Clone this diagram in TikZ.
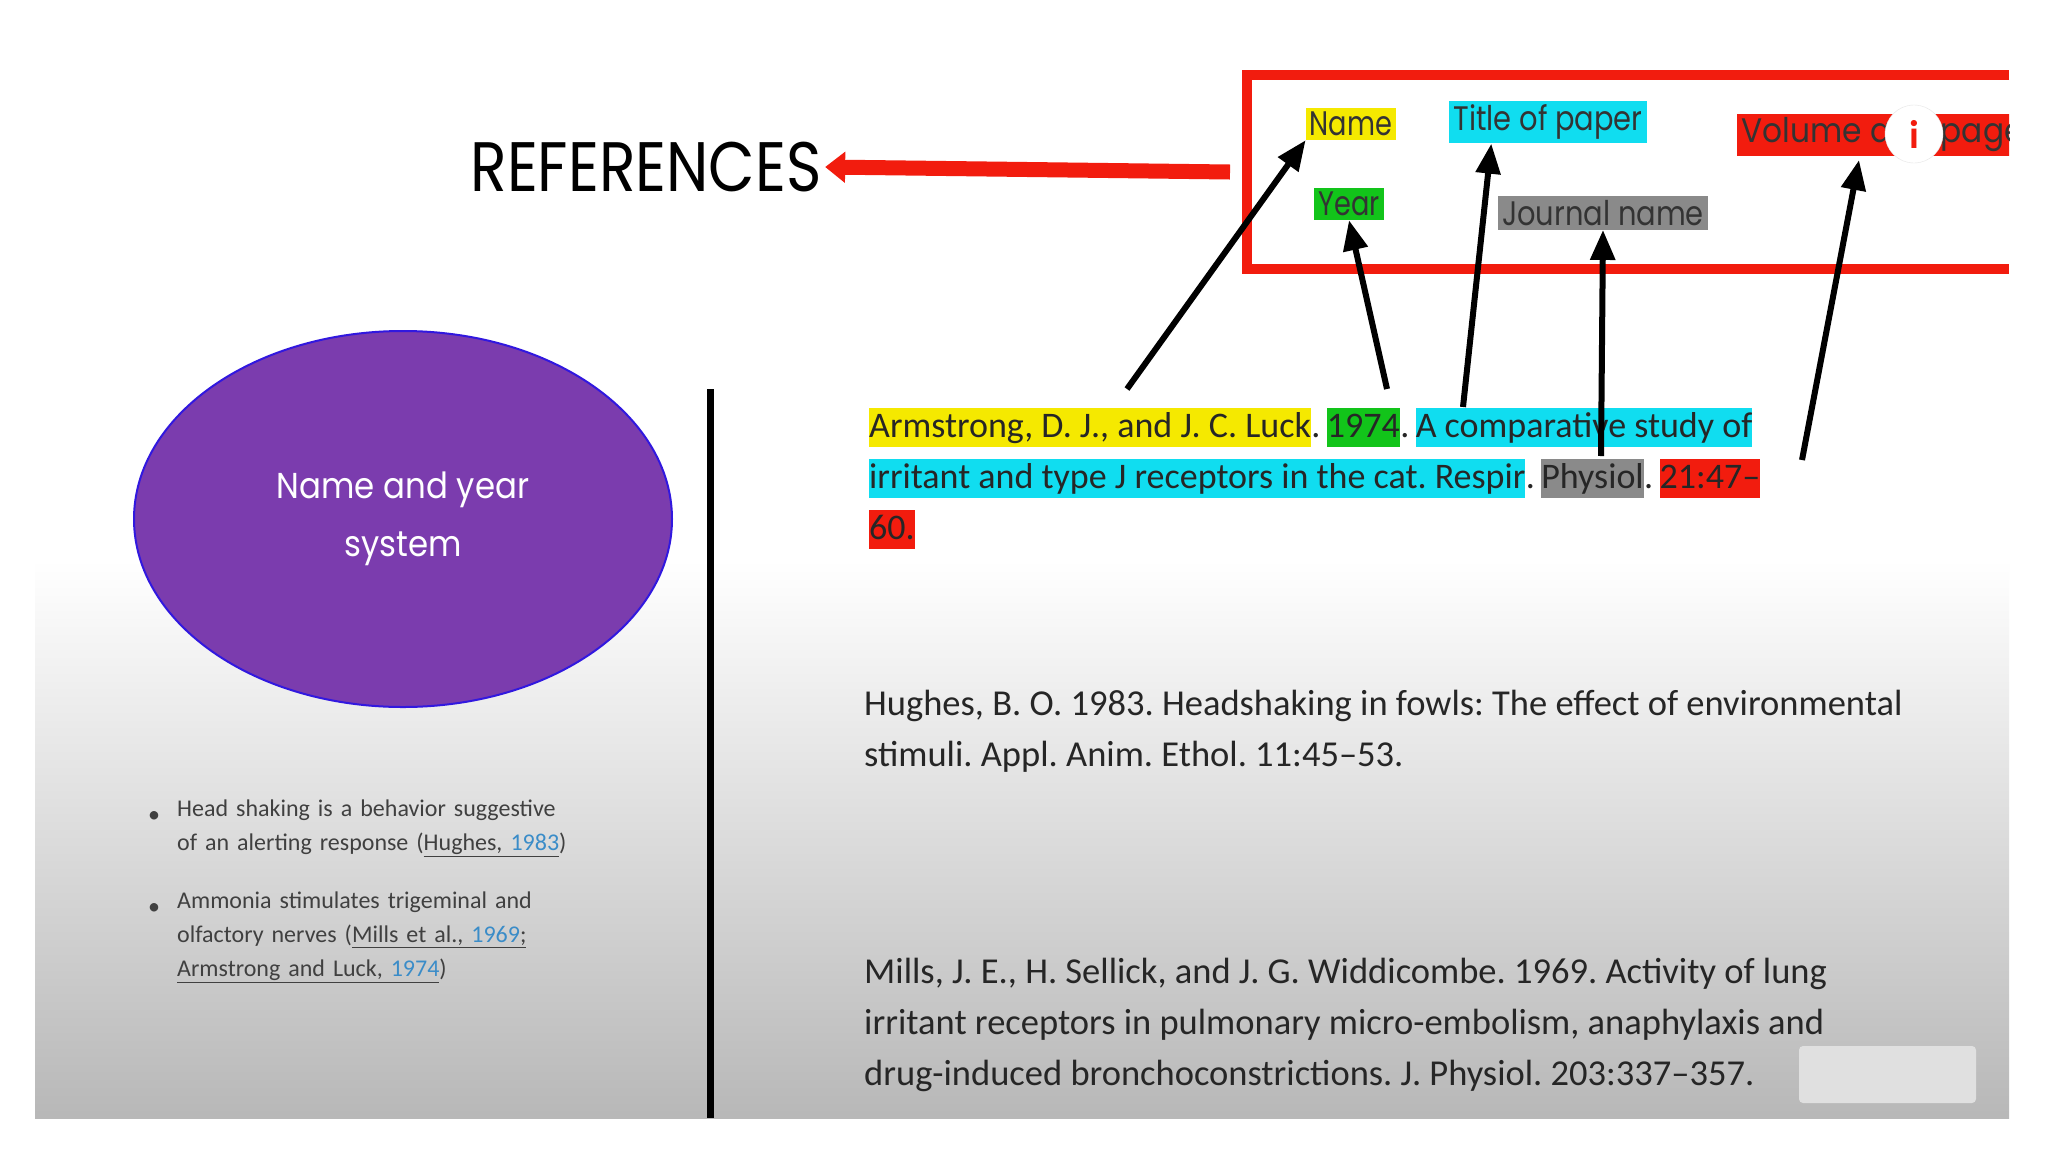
\documentclass[tikz,border=0pt]{standalone}
\usepackage{fontspec}
\setmainfont{Carlito}
\newfontfamily\gothic{Poppins}
\usetikzlibrary{arrows.meta,shapes.geometric}
\definecolor{hly}{HTML}{F5E900}
\definecolor{hlg}{HTML}{12C41A}
\definecolor{hlc}{HTML}{10DDF0}
\definecolor{hlr}{HTML}{F21C0E}
\definecolor{hlk}{HTML}{8A8A8A}
\definecolor{purp}{HTML}{7B3CAE}
\definecolor{lnk}{HTML}{3A8CC8}
\tikzset{
  seg/.style={anchor=base west,inner xsep=0pt,inner ysep=0pt,text height=29pt,text depth=10pt,font=\fontsize{36}{40}\selectfont,text=black!85},
  lab/.style={inner sep=4pt,font=\gothic\fontsize{34}{38}\selectfont,text=black!80},
  arr/.style={line width=6pt,-{Triangle[length=30pt,width=24pt]}},
  reftext/.style={anchor=north west,align=left,font=\fontsize{36.5}{51}\selectfont,text=black!85,inner sep=0pt},
  bul/.style={anchor=north west,align=left,font=\fontsize{24}{34}\selectfont,text=black!75,inner sep=0pt,text width=400pt}
}
\newcommand{\ul}[1]{\underline{#1}}
\begin{document}
\frenchspacing
\begin{tikzpicture}[x=1pt,y=-1pt]
\useasboundingbox (0,0) rectangle (2048,1152);
\fill[white] (0,0) rectangle (2048,1152);
\shade[top color=white,bottom color=black!28] (35,560) rectangle (2009,1118);
% REFERENCES
\node[font=\gothic\fontsize{70}{72}\selectfont,text=black] (title) at (646,167) {\scalebox{0.86}[1]{REFERENCES}};
\coordinate (rs) at (1230,172);
\draw[hlr,line width=15pt,-{Triangle[length=20pt,width=30pt]}] (rs) -- (title.east);
% red frame
\draw[hlr,line width=10pt] (2009,75) -- (1247,75) -- (1247,269) -- (2009,269);
\node[lab,fill=hly] (name) at (1351,124) {\scalebox{0.8}[1]{Name}};
\node[lab,fill=hlc] (tit) at (1548,122) {\scalebox{0.85}[1]{Title of paper}};
\begin{scope}
\clip (1700,90) rectangle (2009,180);
\node[lab,fill=hlr,anchor=west] (vol) at (1737,135) {\scalebox{0.92}[1]{Volume and pages}};
\end{scope}
\node[lab,fill=hlg] (year) at (1349,204) {\scalebox{0.8}[1]{Year}};
\node[lab,fill=hlk] (jour) at (1603,213) {\scalebox{0.85}[1]{Journal name}};
\node[circle,fill=white,draw=black!10,minimum size=58pt,inner sep=0pt,text=hlr,font=\fontsize{40}{40}\selectfont\bfseries] (info) at (1914,134) {i};
% ellipse
\node[ellipse,fill=purp,draw=blue!60!purp,line width=2pt,minimum width=538pt,minimum height=376pt,inner sep=0pt,align=center,text=white,font=\gothic\fontsize{36}{58}\selectfont] (ell) at (403,519) {\scalebox{0.9}[1]{Name and year}\\\scalebox{0.9}[1]{system}};
\draw[black,line width=7pt] (710,389) -- (710,1118);
% bullets
\node[bul] (b1) at (177,800) {Head shaking is a behavior suggestive\\of an alerting response (\ul{Hughes, \textcolor{lnk}{1983}})};
\node[bul] (b2) at (177,892) {Ammonia stimulates trigeminal and\\olfactory nerves (\ul{Mills et al., \textcolor{lnk}{1969};}\\\ul{Armstrong and Luck, \textcolor{lnk}{1974}})};
\node[font=\fontsize{24}{24}\selectfont,text=black!75] (d1) at (154,817) {•};
\node[font=\fontsize{24}{24}\selectfont,text=black!75] (d2) at (154,909) {•};
% Armstrong reference
\node[seg,fill=hly] (s1) at (869,437) {Armstrong, D. J., and J. C. Luck};
\node[seg] (s2) at (s1.base east) {.\kern6pt};
\node[seg,fill=hlg] (s3) at (s2.base east) {1974};
\node[seg] (s4) at (s3.base east) {.\kern6pt};
\node[seg,fill=hlc] (s5) at (s4.base east) {A comparative study of};
\node[seg,fill=hlc] (t1) at (869,488) {irritant and type J receptors in the cat. Respir};
\node[seg] (t2) at (t1.base east) {.\kern6pt};
\node[seg,fill=hlk] (t3) at (t2.base east) {Physiol};
\node[seg] (t4) at (t3.base east) {.\kern6pt};
\node[seg,fill=hlr] (t5) at (t4.base east) {21:47–};
\node[seg,fill=hlr] (u1) at (869,539) {60.};
% arrows
\coordinate (a1) at (1127,389);
\coordinate (a2) at (1387,389);
\coordinate (a3) at (1463,407);
\coordinate (a4) at (1601,456);
\coordinate (a5) at (1802,460);
\draw[arr] (a1) -- (name.south west);
\draw[arr] (a2) -- (year.south);
\draw[arr] (a3) -- ([xshift=42pt]tit.south west);
\draw[arr] (a4) -- (jour.south);
\draw[arr] (a5) -- (1859,160);
% other refs
\node[reftext] (hug) at (864,690) {Hughes, B. O. 1983. Headshaking in fowls: The effect of environmental\\stimuli. Appl. Anim. Ethol. 11:45–53.};
\node[reftext] (mil) at (864,958) {Mills, J. E., H. Sellick, and J. G. Widdicombe. 1969. Activity of lung\\irritant receptors in pulmonary micro-embolism, anaphylaxis and\\drug-induced bronchoconstrictions. J. Physiol. 203:337–357.};
\fill[black!12,rounded corners=4pt] (1799,1046) rectangle (1976,1103);
\end{tikzpicture}
\end{document}
